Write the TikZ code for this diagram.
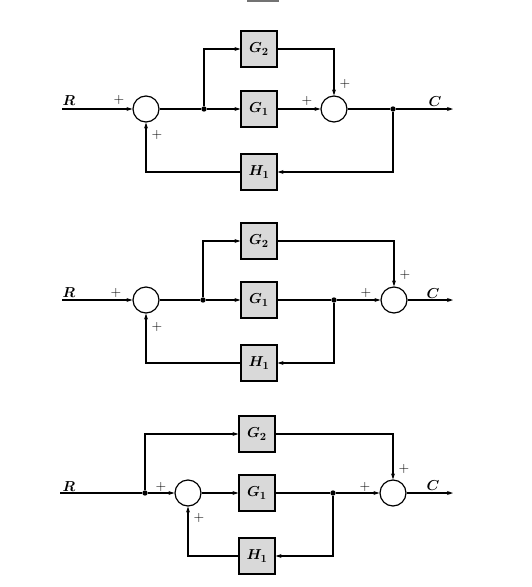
\documentclass[tikz,border=0pt]{standalone}
\usepackage{bm}
\usetikzlibrary{arrows.meta}
\begin{document}
\begin{tikzpicture}[x=1pt,y=-1pt,line width=1.2pt,
  >={Stealth[length=6pt,width=4pt]},
  blk/.style={draw,fill=black!15,minimum width=36pt,minimum height=36pt,inner sep=0pt,font=\fontsize{15}{17}\selectfont},
  sumc/.style={draw,circle,minimum size=26pt,inner sep=0pt},
  jdot/.style={circle,fill,inner sep=1.9pt},
  sgn/.style={inner sep=0pt,font=\fontsize{14}{16}\selectfont},
  sig/.style={inner sep=0pt,font=\fontsize{14}{16}\selectfont}]
\useasboundingbox(0,0)rectangle(531,587);
\draw[black!55,line width=1.4pt](247,1)--(279,1);
% first diagram
\pgfmathsetmacro{\ya}{109}
\coordinate(ra)at(62,\ya);
\coordinate(ca)at(453,\ya);
\draw(146,\ya)node[sumc](sa1){};
\draw(334,\ya)node[sumc](sa2){};
\draw(204,\ya)node[jdot](ja1){};
\draw(393,\ya)node[jdot](ja2){};
\draw(259,49)node[blk](ga2){$\bm{G_2}$};
\draw(259,\ya)node[blk](ga1){$\bm{G_1}$};
\draw(259,172)node[blk](ha1){$\bm{H_1}$};
\draw(69,101)node[sig](lra){$\bm{R}$};
\draw(435,102)node[sig](lca){$\bm{C}$};
\draw(119,100)node[sgn](pa1){+};
\draw(157,135)node[sgn](pa2){+};
\draw(307,101)node[sgn](pa3){+};
\draw(345,84)node[sgn](pa4){+};
\draw[->](ra)--(sa1);
\draw(sa1)--(ja1);
\draw[->](ja1)--(ga1);
\draw[->](ja1)|-(ga2);
\draw[->](ga1)--(sa2);
\draw[->](ga2)-|(sa2);
\draw(sa2)--(ja2);
\draw[->](ja2)--(ca);
\draw[->](ja2)|-(ha1);
\draw[->](ha1)-|(sa1);
% second diagram
\pgfmathsetmacro{\yb}{300}
\coordinate(rb)at(62,\yb);
\coordinate(cb)at(453,\yb);
\draw(146,\yb)node[sumc](sb1){};
\draw(394,\yb)node[sumc](sb2){};
\draw(203,\yb)node[jdot](jb1){};
\draw(334,\yb)node[jdot](jb2){};
\draw(259,241)node[blk](gb2){$\bm{G_2}$};
\draw(259,\yb)node[blk](gb1){$\bm{G_1}$};
\draw(259,363)node[blk](hb1){$\bm{H_1}$};
\draw(69,293)node[sig](lrb){$\bm{R}$};
\draw(433,294)node[sig](lcb){$\bm{C}$};
\draw(116,293)node[sgn](pb1){+};
\draw(157,327)node[sgn](pb2){+};
\draw(366,293)node[sgn](pb3){+};
\draw(405,275)node[sgn](pb4){+};
\draw[->](rb)--(sb1);
\draw(sb1)--(jb1);
\draw[->](jb1)--(gb1);
\draw[->](jb1)|-(gb2);
\draw(gb1)--(jb2);
\draw[->](jb2)--(sb2);
\draw[->](gb2)-|(sb2);
\draw[->](sb2)--(cb);
\draw[->](jb2)|-(hb1);
\draw[->](hb1)-|(sb1);
% third diagram
\pgfmathsetmacro{\yc}{493}
\coordinate(rc)at(60,\yc);
\coordinate(cc)at(453,\yc);
\draw(188,\yc)node[sumc](sc1){};
\draw(393,\yc)node[sumc](sc2){};
\draw(145,\yc)node[jdot](jc1){};
\draw(333,\yc)node[jdot](jc2){};
\draw(257,434)node[blk](gc2){$\bm{G_2}$};
\draw(257,\yc)node[blk](gc1){$\bm{G_1}$};
\draw(257,556)node[blk](hc1){$\bm{H_1}$};
\draw(69,487)node[sig](lrc){$\bm{R}$};
\draw(433,486)node[sig](lcc){$\bm{C}$};
\draw(161,487)node[sgn](pc1){+};
\draw(199,518)node[sgn](pc2){+};
\draw(365,487)node[sgn](pc3){+};
\draw(404,469)node[sgn](pc4){+};
\draw(rc)--(jc1);
\draw[->](jc1)--(sc1);
\draw[->](jc1)|-(gc2);
\draw[->](sc1)--(gc1);
\draw(gc1)--(jc2);
\draw[->](jc2)--(sc2);
\draw[->](gc2)-|(sc2);
\draw[->](sc2)--(cc);
\draw[->](jc2)|-(hc1);
\draw[->](hc1)-|(sc1);
\end{tikzpicture}
\end{document}
